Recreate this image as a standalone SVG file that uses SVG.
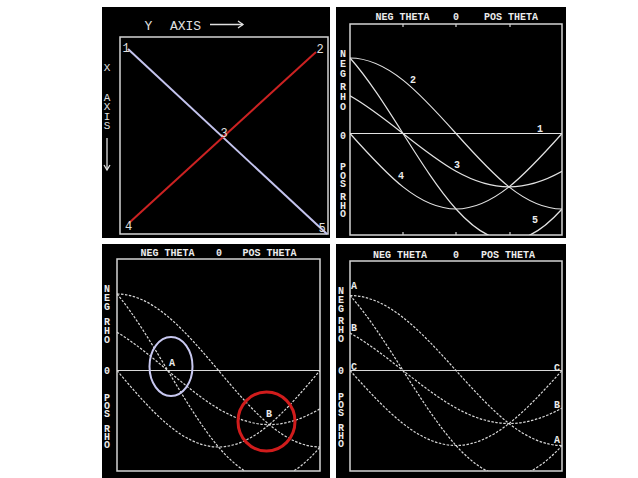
<svg xmlns="http://www.w3.org/2000/svg" width="638" height="478" viewBox="0 0 638 478">
<style>
.bg{fill:#000}
.frame{fill:none;stroke:#d4d4d4;stroke-width:1.5}
.tick{stroke:#d4d4d4;stroke-width:1.2}
.t{font-family:"Liberation Mono","DejaVu Sans Mono",monospace;font-weight:bold;font-size:10px;fill:#ececec;text-anchor:middle}
.v{font-family:"Liberation Mono","DejaVu Sans Mono",monospace;font-weight:bold;font-size:10px;fill:#ececec;writing-mode:vertical-rl;text-orientation:upright}
.tl{font-family:"Liberation Mono","DejaVu Sans Mono",monospace;font-size:13px;fill:#e0e0e0;text-anchor:middle}
.tv{font-family:"Liberation Mono","DejaVu Sans Mono",monospace;font-size:11px;fill:#e0e0e0;writing-mode:vertical-rl;text-orientation:upright}
.cv{fill:none;stroke:#e2e2e2;stroke-width:1.2;vector-effect:non-scaling-stroke}
.cd{fill:none;stroke:#d8d8d8;stroke-width:1.2;stroke-dasharray:2.5 1.5;vector-effect:non-scaling-stroke}
.zl{fill:none;stroke:#d8d8d8;stroke-width:1.2;vector-effect:non-scaling-stroke}
</style>
<defs>
<clipPath id="clipTR"><rect x="350" y="24" width="212" height="211"/></clipPath>
<clipPath id="clipBL"><rect x="117" y="259" width="203" height="212"/></clipPath>
<clipPath id="clipBR"><rect x="350" y="261" width="212" height="210"/></clipPath>
</defs>
<rect width="638" height="478" fill="#fff"/>

<!-- Top-left: X/Y axis plot -->
<g id="panel-xy">
<rect class="bg" x="102" y="7" width="228" height="231"/>
<rect class="frame" x="120" y="37" width="208" height="197"/>
<text class="tl" x="148.5" y="29.5">Y</text>
<text class="tl" x="185.5" y="29.5">AXIS</text>
<line x1="210" y1="24.5" x2="243" y2="24.5" stroke="#e0e0e0" stroke-width="1.3"/>
<polyline points="238,21 243,24.5 238,28" fill="none" stroke="#e0e0e0" stroke-width="1.3"/>
<text class="tl" style="font-size:11px" x="107" y="70.5">X</text>
<text class="tv" x="107" y="92" textLength="40" lengthAdjust="spacing">AXIS</text>
<line x1="107" y1="138" x2="107" y2="170" stroke="#e0e0e0" stroke-width="1.3"/>
<polyline points="104,165 107,170 110,165" fill="none" stroke="#e0e0e0" stroke-width="1.3"/>
<line x1="128" y1="49" x2="327" y2="234" stroke="#c4c4ee" stroke-width="2"/>
<line x1="129" y1="223" x2="316" y2="52" stroke="#cc2222" stroke-width="2"/>
<text class="tl" style="font-size:12px" x="126" y="52">1</text>
<text class="tl" style="font-size:12px" x="320" y="52.5">2</text>
<text class="tl" style="font-size:12px" x="224" y="137">3</text>
<text class="tl" style="font-size:12px" x="128.5" y="229.5">4</text>
<text class="tl" style="font-size:12px" x="322" y="232">5</text>
</g>

<!-- Top-right: Hough curves 1-5 -->
<g id="panel-hough">
<rect class="bg" x="336" y="7" width="230" height="231"/>
<rect class="frame" x="350" y="24" width="212" height="211"/>
<line class="tick" x1="403" y1="24" x2="403" y2="27"/>
<line class="tick" x1="456" y1="24" x2="456" y2="27"/>
<line class="tick" x1="510" y1="24" x2="510" y2="27"/>
<line class="tick" x1="403" y1="235" x2="403" y2="232"/>
<line class="tick" x1="456" y1="235" x2="456" y2="232"/>
<line class="tick" x1="510" y1="235" x2="510" y2="232"/>
<text class="t" x="402.5" y="19.5">NEG THETA</text>
<text class="t" x="456" y="19.5">0</text>
<text class="t" x="511" y="19.5">POS THETA</text>
<text class="v" x="343" y="49" textLength="31" lengthAdjust="spacing">NEG</text>
<text class="v" x="343" y="82" textLength="31" lengthAdjust="spacing">RHO</text>
<text class="t" x="343" y="138.5">0</text>
<text class="v" x="343" y="162" textLength="28" lengthAdjust="spacing">POS</text>
<text class="v" x="343" y="192" textLength="28" lengthAdjust="spacing">RHO</text>
<g clip-path="url(#clipTR)">
<g transform="translate(456,133.5) scale(1.17778,0.755)">
<path class="cv" d="M-90,0 H90"/>
<path class="cv" d="M-90,-100 C-75,-100 -60,-89.22 -45,-70.71 C-30,-52.2 -15,-26.18 0,0 C15,26.18 30,52.2 45,70.71 C60,89.22 75,100 90,100"/>
<path class="cv" d="M-90,-50 C-75,-36.91 -60,-18.51 -45,0 C-30,18.51 -15,36.91 0,50 C15,63.09 30,70.71 45,70.71 C60,70.71 75,63.09 90,50"/>
<path class="cv" d="M-90,0 C-75,26.18 -60,52.2 -45,70.71 C-30,89.22 -15,100 0,100 C15,100 30,89.22 45,70.71 C60,52.2 75,26.18 90,0"/>
<path class="cv" d="M-90,-100 C-75,-73.82 -60,-37.02 -45,0 C-30,37.02 -15,73.82 0,100 C15,126.18 30,141.42 45,141.42 C60,141.42 75,126.18 90,100"/>
</g>
</g>
<text class="t" x="540" y="131.5">1</text>
<text class="t" x="413" y="82.5">2</text>
<text class="t" x="457" y="167.5">3</text>
<text class="t" x="401" y="178.5">4</text>
<text class="t" x="535" y="222.5">5</text>
</g>

<!-- Bottom-left: circled intersections A and B -->
<g id="panel-circled">
<rect class="bg" x="102" y="244" width="228" height="234"/>
<rect class="frame" x="117" y="259" width="203" height="212"/>
<text class="t" x="167.5" y="255.5">NEG THETA</text>
<text class="t" x="219" y="255.5">0</text>
<text class="t" x="269.5" y="255.5">POS THETA</text>
<text class="v" x="107" y="284" textLength="29" lengthAdjust="spacing">NEG</text>
<text class="v" x="107" y="317" textLength="29" lengthAdjust="spacing">RHO</text>
<text class="t" x="107" y="374">0</text>
<text class="v" x="107" y="393" textLength="27" lengthAdjust="spacing">POS</text>
<text class="v" x="107" y="424" textLength="27" lengthAdjust="spacing">RHO</text>
<g clip-path="url(#clipBL)">
<g transform="translate(218.5,370.5) scale(1.12778,0.765)">
<path class="zl" d="M-90,0 H90"/>
<path class="cd" d="M-90,-100 C-75,-100 -60,-89.22 -45,-70.71 C-30,-52.2 -15,-26.18 0,0 C15,26.18 30,52.2 45,70.71 C60,89.22 75,100 90,100"/>
<path class="cd" d="M-90,-50 C-75,-36.91 -60,-18.51 -45,0 C-30,18.51 -15,36.91 0,50 C15,63.09 30,70.71 45,70.71 C60,70.71 75,63.09 90,50"/>
<path class="cd" d="M-90,0 C-75,26.18 -60,52.2 -45,70.71 C-30,89.22 -15,100 0,100 C15,100 30,89.22 45,70.71 C60,52.2 75,26.18 90,0"/>
<path class="cd" d="M-90,-100 C-75,-73.82 -60,-37.02 -45,0 C-30,37.02 -15,73.82 0,100 C15,126.18 30,141.42 45,141.42 C60,141.42 75,126.18 90,100"/>
</g>
</g>
<ellipse cx="171" cy="366.5" rx="21.5" ry="29.5" fill="none" stroke="#c8c8f0" stroke-width="2"/>
<ellipse cx="266.5" cy="421.5" rx="28.5" ry="29.5" fill="none" stroke="#d01c1c" stroke-width="3"/>
<text class="t" x="172" y="366">A</text>
<text class="t" x="269" y="417">B</text>
</g>

<!-- Bottom-right: labelled curves A, B, C -->
<g id="panel-labelled">
<rect class="bg" x="336" y="244" width="230" height="234"/>
<rect class="frame" x="350" y="261" width="212" height="210"/>
<text class="t" x="400" y="257.5">NEG THETA</text>
<text class="t" x="456" y="257.5">0</text>
<text class="t" x="508" y="257.5">POS THETA</text>
<text class="v" x="341" y="286" textLength="29" lengthAdjust="spacing">NEG</text>
<text class="v" x="341" y="316" textLength="29" lengthAdjust="spacing">RHO</text>
<text class="t" x="341" y="374">0</text>
<text class="v" x="341" y="392" textLength="27" lengthAdjust="spacing">POS</text>
<text class="v" x="341" y="423" textLength="27" lengthAdjust="spacing">RHO</text>
<g clip-path="url(#clipBR)">
<g transform="translate(456,370.5) scale(1.17778,0.75)">
<path class="zl" d="M-90,0 H90"/>
<path class="cd" d="M-90,-100 C-75,-100 -60,-89.22 -45,-70.71 C-30,-52.2 -15,-26.18 0,0 C15,26.18 30,52.2 45,70.71 C60,89.22 75,100 90,100"/>
<path class="cd" d="M-90,-50 C-75,-36.91 -60,-18.51 -45,0 C-30,18.51 -15,36.91 0,50 C15,63.09 30,70.71 45,70.71 C60,70.71 75,63.09 90,50"/>
<path class="cd" d="M-90,0 C-75,26.18 -60,52.2 -45,70.71 C-30,89.22 -15,100 0,100 C15,100 30,89.22 45,70.71 C60,52.2 75,26.18 90,0"/>
<path class="cd" d="M-90,-100 C-75,-73.82 -60,-37.02 -45,0 C-30,37.02 -15,73.82 0,100 C15,126.18 30,141.42 45,141.42 C60,141.42 75,126.18 90,100"/>
</g>
</g>
<text class="t" x="354" y="288.5">A</text>
<text class="t" x="354" y="330.5">B</text>
<text class="t" x="354" y="369.5">C</text>
<text class="t" x="557" y="370.5">C</text>
<text class="t" x="557" y="407.5">B</text>
<text class="t" x="557" y="442.5">A</text>
</g>
</svg>
